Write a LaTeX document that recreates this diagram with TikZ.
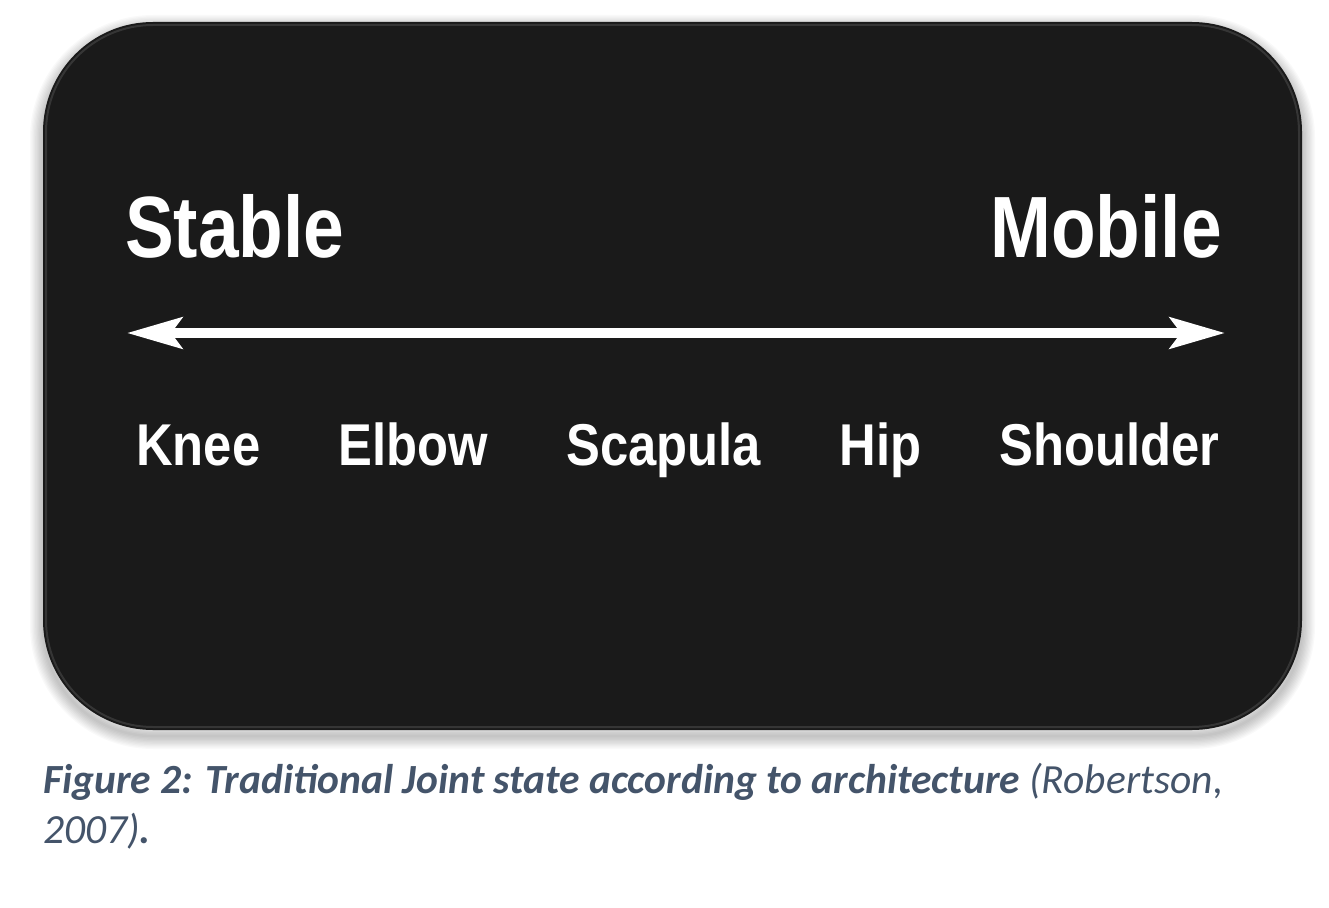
\documentclass[tikz,border=0pt]{standalone}
\usepackage{fontspec}
\usepackage{tikz}
\usetikzlibrary{positioning}
\usetikzlibrary{arrows.meta}
\newfontfamily\boardfont[FakeStretch=0.84]{Liberation Sans}
\newfontfamily\jointfont[FakeStretch=0.86]{Liberation Sans}
\newfontfamily\capfont{Carlito}
\definecolor{boardblack}{HTML}{1A1A1A}
\definecolor{captionblue}{HTML}{44546A}

\begin{document}
\begin{tikzpicture}[x=1pt,y=-1pt,node distance=78pt,>={Stealth[length=55pt,width=31pt,inset=11pt]}]
\tikzstyle{every node}=[inner sep=0pt,text=white]
\tikzstyle{big}=[font=\boardfont\bfseries\fontsize{87}{90}\selectfont]
\tikzstyle{joint}=[font=\jointfont\bfseries\fontsize{59}{62}\selectfont]
\useasboundingbox[fill=white] (0,0) rectangle (1329,907);
% shadow round the board
\foreach \i in {1,...,10}
  \draw[rounded corners=110pt,black,opacity=0.025,line width=\i*2.6pt] (43,28) rectangle (1302,736);
% board
\path[fill=boardblack,rounded corners=110pt] (43,22) rectangle (1302,730);
\draw[rounded corners=107pt,white,opacity=0.12,line width=2pt] (46,25) rectangle (1299,727);

\path node[big,anchor=base west] (st) at (125,257) {Stable};
\path node[big,anchor=base east] (mo) at (1222,257) {Mobile};

\coordinate (al) at (127,333);
\coordinate (ar) at (1225,333);
\draw[<->,white,line width=9.5pt] (al) -- (ar);

\path node[joint,anchor=base west] (kn) at (136,465) {Knee};
\path node[joint,base right =of kn] (el) {Elbow};
\path node[joint,base right =of el] (sc) {Scapula};
\path node[joint,base right =of sc] (hp) {Hip};
\path node[joint,base right =of hp] (sh) {Shoulder};

% caption
\path node[anchor=base west,align=left,text=captionblue,font=\capfont\bfseries\itshape\fontsize{41.5}{50}\selectfont] (cap) at (43,843)
  {Figure 2: Traditional Joint state according to architecture {\mdseries(Robertson,}\\{\mdseries 2007)}.};
\end{tikzpicture}
\end{document}
